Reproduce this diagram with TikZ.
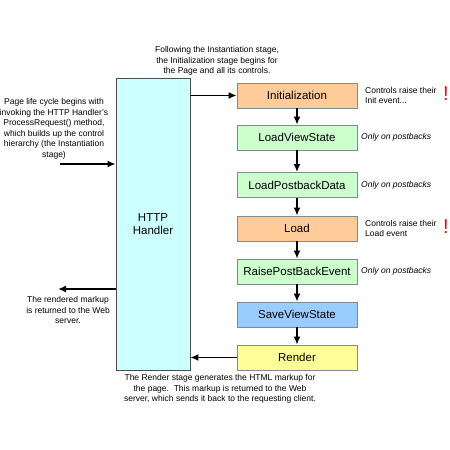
\documentclass[tikz,border=0pt]{standalone}
\usepackage{fontspec}
\setmainfont{Liberation Sans}
\usetikzlibrary{positioning,arrows.meta}

\definecolor{peach}{HTML}{FFCC99}
\definecolor{mint}{HTML}{CCFFCC}
\definecolor{sky}{HTML}{99CCFF}
\definecolor{lemon}{HTML}{FFFF99}
\definecolor{aqua}{HTML}{CCFFFF}
\definecolor{edge}{HTML}{7F8C8D}

\begin{document}
\begin{tikzpicture}[x=1pt, y=-1pt,
	stage/.style ={rectangle, draw = edge, thick, minimum width=120pt, minimum height=25pt, inner sep=0pt, font=\fontsize{11.5}{13}\selectfont},
	note/.style ={align = center, inner sep=0pt, font=\fontsize{8.5}{10.5}\selectfont},
	side/.style ={align = left, inner sep=0pt, font=\fontsize{8.5}{10.5}\selectfont},
	arr/.style ={-{Latex[length=8pt,width=7pt]}, line width=1.7pt}]
		\useasboundingbox (0,0) rectangle (450,450);
		\def\cx{297};
		% handler and stages
		\node[rectangle, draw = black!70, thick, fill=aqua, minimum width=74pt, minimum height=292pt, align=center, font=\fontsize{11.5}{13.5}\selectfont] (handler) at (153,224) {HTTP\\Handler};
		\node[stage, fill=peach] (init) at (\cx,95.5) {Initialization};
		\node[stage, fill=mint] (lvs) at (\cx,137.5) {LoadViewState};
		\node[stage, fill=mint] (lpd) at (\cx,185) {LoadPostbackData};
		\node[stage, fill=peach] (load) at (\cx,228.5) {Load};
		\node[stage, fill=mint] (rpe) at (\cx,271.5) {RaisePostBackEvent};
		\node[stage, fill=sky] (svs) at (\cx,314.5) {SaveViewState};
		\node[stage, fill=lemon] (render) at (\cx,357.5) {Render};
		\foreach \a/\b in {init/lvs, lvs/lpd, lpd/load, load/rpe, rpe/svs, svs/render}
			\draw[arr] (\a) -- (\b);
		% notes
		\node[note] (tnote) at (217,61) {Following the Instantiation stage,\\the Initialization stage begins for\\the Page and all its controls.};
		\node[note] (lnote) at (54,129) {Page life cycle begins with\\invoking the HTTP Handler's\\ProcessRequest() method,\\which builds up the control\\hierarchy (the Instantiation\\stage)};
		\node[note] (onote) at (68,310) {The rendered markup\\is returned to the Web\\server.};
		\node[note] (bnote) at (220,389) {The Render stage generates the HTML markup for\\the page.\ \ This markup is returned to the Web\\server, which sends it back to the requesting client.};
		\node[side, anchor=west] (n1) at (365,95.5) {Controls raise their\\Init event...};
		\node[side, anchor=west] (n4) at (365,228.5) {Controls raise their\\Load event};
		\node[side, anchor=west, font=\fontsize{8.5}{10.5}\selectfont\itshape] (n2) at (361,137.5) {Only on postbacks};
		\node[side, anchor=west, font=\fontsize{8.5}{10.5}\selectfont\itshape] (n3) at (361,185) {Only on postbacks};
		\node[side, anchor=west, font=\fontsize{8.5}{10.5}\selectfont\itshape] (n5) at (361,271.5) {Only on postbacks};
		\node[red, inner sep=0pt, font=\fontsize{20}{20}\selectfont] (x1) at (446,94) {!};
		\node[red, inner sep=0pt, font=\fontsize{20}{20}\selectfont] (x2) at (446,227) {!};
		% flow in and out of the handler
		\coordinate (in) at (60,164);
		\coordinate (out) at (58,289);
		\draw[arr] (in) -- (handler.west |- in);
		\draw[arr] (handler.west |- out) -- (out);
		\draw[arr] (handler.east |- init.west) -- (init.west);
		\draw[arr] (render.west) -- (handler.east |- render.west);
	\end{tikzpicture}
\end{document}
